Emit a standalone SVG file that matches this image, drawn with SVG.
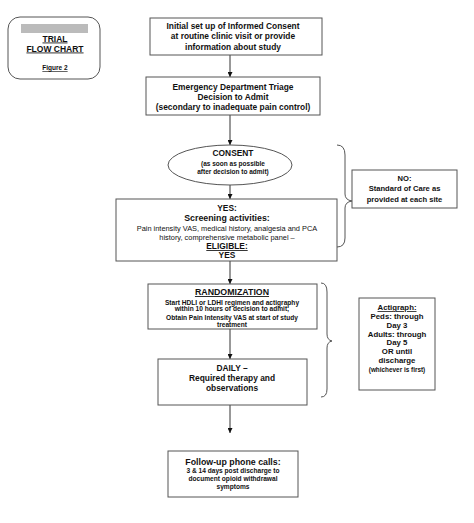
<svg xmlns="http://www.w3.org/2000/svg" width="474" height="523" viewBox="0 0 474 523">
<style>
.bx{fill:#fff;stroke:#555;stroke-width:1}
.t{font-family:"Liberation Sans",Arial,sans-serif;font-weight:bold;fill:#111;text-anchor:middle}
.r{font-weight:normal}
.u{text-decoration:underline}
.c{fill:none;stroke:#333;stroke-width:1}
.br{fill:none;stroke:#555;stroke-width:1}
</style>
<defs>
<marker id="ah" viewBox="0 0 6 6" refX="6" refY="3" markerWidth="5" markerHeight="5" orient="auto" markerUnits="userSpaceOnUse">
<path d="M0,0 L6,3 L0,6 z" fill="#111"/>
</marker>
</defs>
<rect width="474" height="523" fill="#fff"/>
<g id="title">
<rect class="bx" x="8" y="17" width="92" height="62" rx="12"/>
<rect x="21" y="24" width="67" height="9" fill="#bbb"/>
<text class="t u" x="55" y="41.5" font-size="8.5">TRIAL</text>
<text class="t u" x="55" y="51.5" font-size="8.5">FLOW CHART</text>
<text class="t u" x="55" y="70" font-size="6.5">Figure 2</text>
</g>
<g id="connectors">
<line class="c" x1="230" y1="55" x2="230" y2="77" marker-end="url(#ah)"/>
<line class="c" x1="230" y1="115" x2="230" y2="145" marker-end="url(#ah)"/>
<line class="c" x1="230" y1="185" x2="230" y2="199" marker-end="url(#ah)"/>
<line class="c" x1="230" y1="261" x2="230" y2="284" marker-end="url(#ah)"/>
<line class="c" x1="230" y1="329" x2="230" y2="359" marker-end="url(#ah)"/>
<line class="c" x1="230" y1="405" x2="230" y2="433" marker-end="url(#ah)"/>
<path class="br" d="M337,145 Q345,145 345,155 L345,194 Q345,200 352,201 Q345,202 345,208 L345,238 Q345,247 337,247"/>
<path class="br" d="M321,283 Q327,283 327,292 L327,334 Q327,340 332,341 Q327,342 327,348 L327,389 Q327,397 321,397"/>
</g>
<g id="initial">
<rect class="bx" x="150" y="18" width="172" height="37"/>
<text class="t" x="233" y="28.5" font-size="8.4">Initial set up of Informed Consent</text>
<text class="t" x="233" y="38.5" font-size="8.4">at routine clinic visit or provide</text>
<text class="t" x="233" y="49.5" font-size="8.4">information about study</text>
</g>
<g id="triage">
<rect class="bx" x="146" y="77" width="174" height="38"/>
<text class="t" x="233" y="90" font-size="8.4">Emergency Department Triage</text>
<text class="t" x="233" y="99.5" font-size="8.4">Decision to Admit</text>
<text class="t" x="233" y="109.5" font-size="8.4">(secondary to inadequate pain control)</text>
</g>
<g id="consent">
<ellipse class="bx" cx="230" cy="165" rx="62" ry="20"/>
<text class="t" x="233" y="156" font-size="8.4">CONSENT</text>
<text class="t" x="233" y="165.5" font-size="6.5">(as soon as possible</text>
<text class="t" x="233" y="173.5" font-size="6.5">after decision to admit)</text>
</g>
<g id="screening">
<rect class="bx" x="116" y="199" width="221" height="62"/>
<text class="t" x="227" y="211" font-size="8.4">YES:</text>
<text class="t" x="227" y="220.5" font-size="8.8">Screening activities:</text>
<text class="t r" x="227" y="231" font-size="7.4">Pain intensity VAS, medical history, analgesia and PCA</text>
<text class="t r" x="227" y="239.5" font-size="7.4">history, comprehensive metabolic panel –</text>
<text class="t u" x="227" y="249" font-size="8.4">ELIGIBLE:</text>
<text class="t" x="227" y="258" font-size="8.4">YES</text>
</g>
<g id="no">
<rect class="bx" x="352" y="170" width="105" height="38"/>
<text class="t" x="404.5" y="181" font-size="7.6">NO:</text>
<text class="t" x="404.5" y="191" font-size="7.6">Standard of Care as</text>
<text class="t" x="404.5" y="202" font-size="7.6">provided at each site</text>
</g>
<g id="randomization">
<rect class="bx" x="148" y="284" width="169" height="45"/>
<text class="t u" x="232" y="295" font-size="8.8">RANDOMIZATION</text>
<text class="t" x="232" y="304.5" font-size="6.6">Start HDLI or LDHI regimen and actigraphy</text>
<text class="t" x="232" y="311" font-size="6.6">within 10 hours of decision to admit;</text>
<text class="t" x="232" y="319.5" font-size="6.6">Obtain Pain Intensity VAS at start of study</text>
<text class="t" x="232" y="326.5" font-size="6.6">treatment</text>
</g>
<g id="daily">
<rect class="bx" x="158" y="359" width="149" height="46"/>
<text class="t" x="232" y="371" font-size="8.4">DAILY –</text>
<text class="t" x="232" y="381" font-size="8.4">Required therapy and</text>
<text class="t" x="232" y="390.5" font-size="8.4">observations</text>
</g>
<g id="actigraph">
<rect class="bx" x="359" y="298" width="76" height="92"/>
<text class="t u" x="397" y="310" font-size="7.8">Actigraph:</text>
<text class="t" x="397" y="319" font-size="7.8">Peds: through</text>
<text class="t" x="397" y="327.5" font-size="7.8">Day 3</text>
<text class="t" x="397" y="336.5" font-size="7.8">Adults: through</text>
<text class="t" x="397" y="345" font-size="7.8">Day 5</text>
<text class="t" x="397" y="354" font-size="7.8">OR  until</text>
<text class="t" x="397" y="363" font-size="7.8">discharge</text>
<text class="t" x="397" y="372" font-size="6.4">(whichever is first)</text>
</g>
<g id="followup">
<rect class="bx" x="168" y="451" width="130" height="46"/>
<text class="t" x="233" y="464.5" font-size="8.8">Follow-up phone calls:</text>
<text class="t" x="233" y="472.5" font-size="6.6">3 &amp; 14 days post discharge to</text>
<text class="t" x="233" y="480.5" font-size="6.6">document opioid withdrawal</text>
<text class="t" x="233" y="489" font-size="6.6">symptoms</text>
</g>
</svg>
